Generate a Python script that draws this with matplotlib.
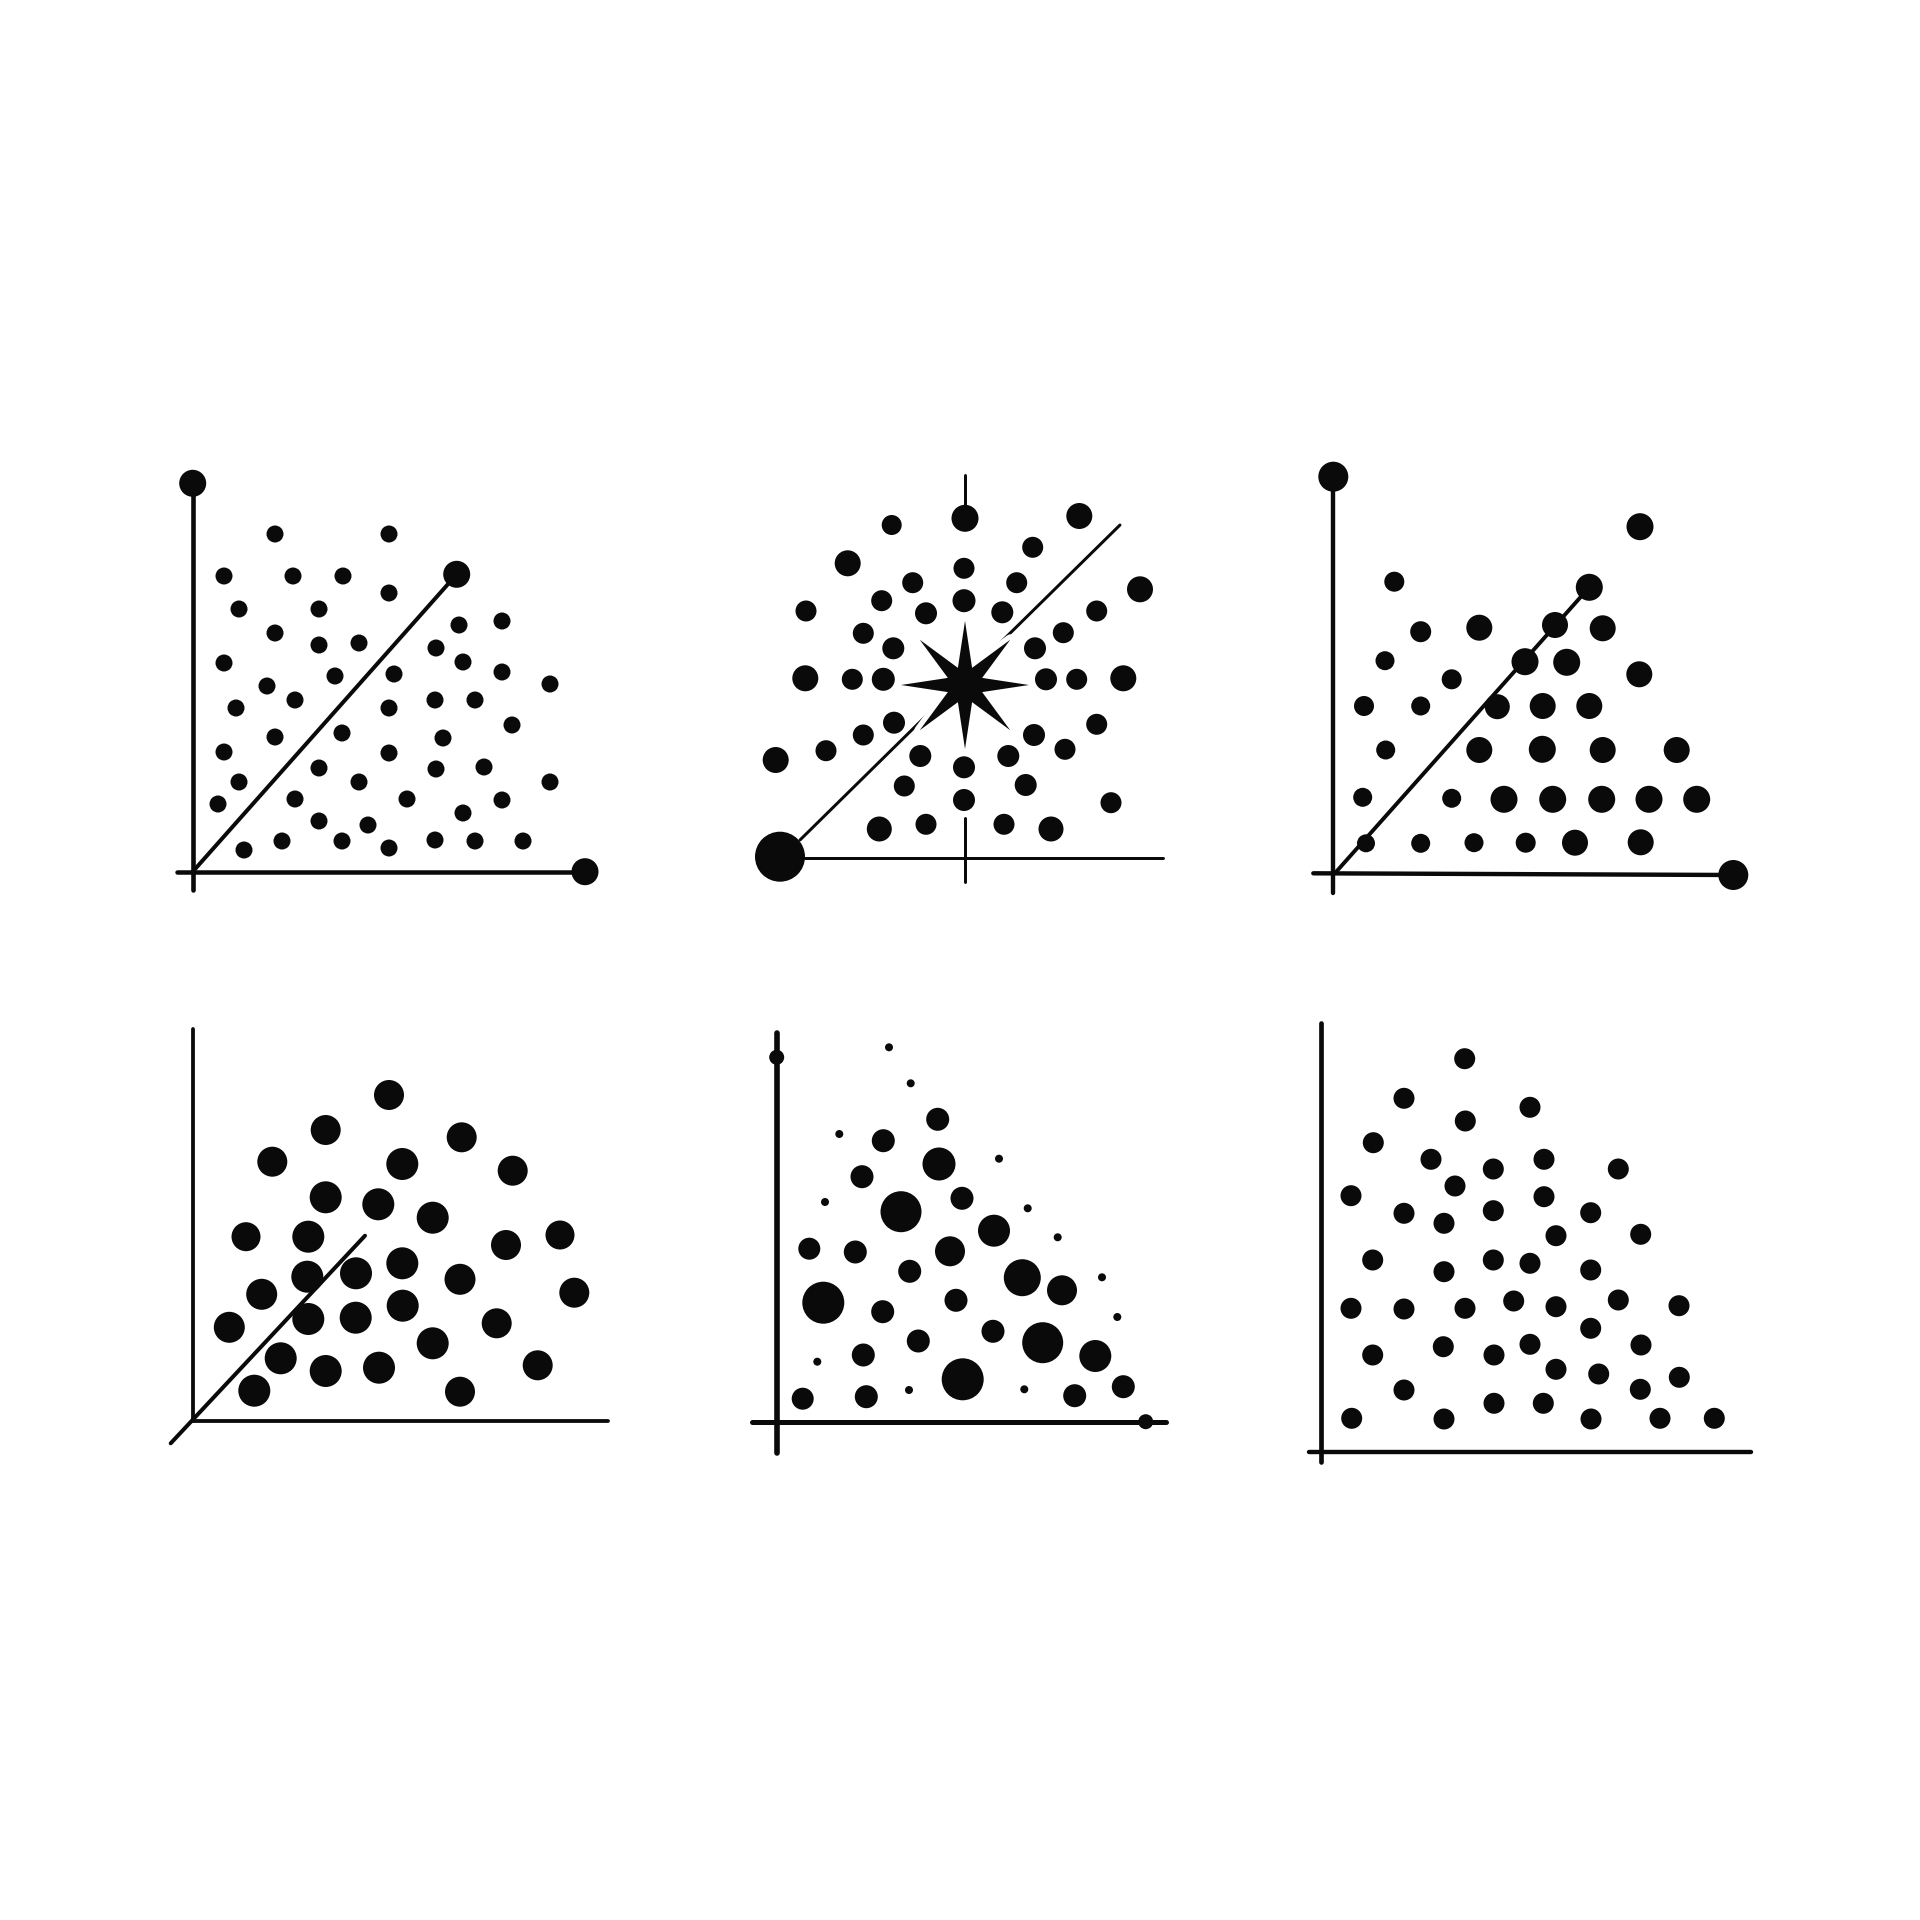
import numpy as np
import matplotlib.pyplot as plt
from matplotlib.path import Path

DPI = 100
PX = 72 / DPI   # points per pixel, used for marker sizes and line widths
INK = '#0a0a0a'

# ---- panel 1 : small scatter with trend line ----
p1_x = [275, 389, 224, 293, 343, 389, 239, 319, 459, 502, 275, 319, 359, 436,
        224, 463, 502, 335, 394, 267, 550, 236, 295, 389, 435, 475, 512, 275,
        342, 443, 224, 389, 239, 319, 359, 436, 484, 550, 218, 295, 407, 502,
        463, 319, 368, 244, 282, 342, 389, 435, 475, 523]
p1_y = [534, 534, 576, 576, 576, 593, 609, 609, 625, 621, 633, 645, 643, 648,
        663, 662, 672, 676, 674, 686, 684, 708, 700, 708, 700, 700, 725, 737,
        733, 738, 752, 753, 782, 768, 782, 769, 767, 782, 804, 799, 799, 800,
        813, 821, 825, 850, 841, 841, 848, 840, 841, 841]
p1_d = [17] * len(p1_x)
p1_end_x = [192.7, 456.7, 585]
p1_end_y = [483.3, 574.3, 871.7]

# ---- panel 2 : radial scatter around a star ----
p2_x = [891.7, 965, 1079.3, 1032.7, 847.7, 964, 912.7, 1016.7, 1140, 806,
        881.7, 926, 964, 1002.3, 1096.7, 863.3, 1063.3, 893.3, 1035, 805.3,
        852.3, 883.3, 1046, 1076.7, 1123.3, 894, 863.3, 1096.7, 1034, 826,
        775.7, 920.3, 1008.3, 1065, 964, 904.3, 1025.7, 964, 1111, 879.3,
        926, 1004, 1051]
p2_y = [525, 518.3, 516, 547.3, 563.3, 568.3, 582.7, 582.7, 589.3, 611,
        600.7, 613.3, 600.7, 612.3, 611, 633.3, 632.7, 648.3, 648.3, 678.3,
        679.3, 679.3, 679.3, 679.3, 678.3, 722.7, 735, 724.3, 735, 750.7,
        760, 756, 756, 749.3, 767.3, 786, 785, 800, 802.7, 829,
        824.3, 824.3, 829]
p2_d = [20, 27, 26, 21, 26, 21, 21, 21, 26, 21,
        21, 22, 23, 22, 21, 21, 21, 22, 22, 26,
        21, 23, 22, 21, 26, 22, 21, 21, 22, 21,
        26, 22, 22, 21, 22, 21, 22, 22, 21, 25,
        21, 21, 25]
p2_star = (965, 685)
p2_origin = (780, 856.7)

# ---- panel 3 : growing dots with trend line ----
p3_x = [1640, 1394.3, 1420.7, 1479.3, 1555, 1602.7, 1385, 1525, 1566.7, 1639.3,
        1451.7, 1364, 1420.7, 1497.3, 1542.7, 1589.3, 1385.7, 1479.3, 1542.3,
        1602.7, 1676.7, 1362.7, 1451.7, 1504, 1552.7, 1601.7, 1649, 1696.7,
        1366, 1420.7, 1474, 1525.7, 1575, 1640.7]
p3_y = [526.7, 581.7, 631.7, 627.7, 625, 628.3, 660.7, 661.7, 662.3, 674.3,
        679.3, 706, 706, 706.7, 706, 706, 750, 750, 749.3,
        750, 750, 797.3, 798.3, 799.3, 799.3, 799.3, 799.3, 799.3,
        843.3, 843.3, 842.7, 842.7, 842.7, 842.3]
p3_d = [27, 20, 21, 26, 26, 26, 19, 27, 27, 26,
        20, 20, 19, 25, 26, 26, 19, 26, 27,
        26, 26, 19, 19, 27, 27, 27, 27, 27,
        18, 19, 19, 20, 26, 26]
p3_end_x = [1333.3, 1589.3, 1733.3]
p3_end_y = [476.7, 587.3, 875]
p3_end_d = [30, 27, 30]

# ---- panel 4 : large dots ----
p4_x = [389, 325.7, 461.7, 272.3, 402.3, 512.7, 325.7, 378.3, 432.7, 246,
        308.3, 506, 560, 307.3, 356, 402.3, 460, 261.7, 574.3, 402.7,
        229.3, 308.3, 355.7, 496.7, 432.7, 280.7, 325.7, 379, 537.7, 254.3, 460]
p4_y = [1095, 1130, 1137.3, 1161.7, 1164, 1170.7, 1197.3, 1204.3, 1217.7, 1236.7,
        1236.7, 1245, 1235, 1276.7, 1273.3, 1263.3, 1279.3, 1294.3, 1292.7, 1305.7,
        1327.3, 1319, 1317.7, 1323.3, 1343.3, 1358.3, 1371, 1367.7, 1365.3, 1390.7,
        1391.7]
p4_d = [30, 30, 30, 30, 32, 30, 32, 32, 32, 29,
        32, 30, 29, 32, 32, 32, 31, 31, 30, 32,
        31, 32, 32, 30, 32, 32, 32, 32, 30, 32, 30]

# ---- panel 5 : bubble sizes ----
p5_x = [889, 910.7, 937.7, 839.3, 883.3, 999, 939, 862, 962, 825,
        901, 1027.7, 994, 1057.7, 809.3, 855.3, 950, 909.7, 1022.3, 1062,
        1102, 823.3, 956, 882.7, 1117.3, 993, 918.3, 1042.7, 1095.3, 817.3,
        863.3, 962.7, 1123.3, 802.7, 866.3, 909, 1024.3, 1074.7]
p5_y = [1047.3, 1083.3, 1119.3, 1134, 1140.7, 1158.7, 1164, 1176.7, 1198.3, 1202,
        1211.7, 1208.3, 1230.7, 1237.3, 1248.7, 1252, 1251.3, 1271.3, 1277.7, 1290.3,
        1277.3, 1302.7, 1300.3, 1311.7, 1317, 1331.3, 1341, 1342.7, 1356, 1361.7,
        1355, 1379.3, 1386.7, 1398.7, 1396.7, 1390, 1389.3, 1395.7]
p5_d = [8, 8, 23, 8, 23, 8, 33, 23, 23, 8,
        41, 8, 32, 8, 22, 23, 30, 23, 37, 30,
        8, 42, 23, 23, 8, 23, 23, 41, 32, 8,
        23, 42, 23, 22, 23, 8, 8, 23]
p5_end_x = [776.7, 1145.7]
p5_end_y = [1057.3, 1421.7]

# ---- panel 6 : uniform dots ----
p6_x = [1464.7, 1404, 1530, 1465.3, 1373.3, 1431, 1493.3, 1544, 1618.3, 1455,
        1351, 1544, 1404, 1493.3, 1590.7, 1444, 1556, 1640.7, 1372.7, 1493.3,
        1530, 1444, 1590.7, 1351, 1404, 1465, 1513.7, 1556, 1618.3, 1679,
        1590.7, 1372.7, 1443.3, 1494, 1530, 1641, 1556, 1598.7, 1679.3, 1404,
        1640.3, 1494, 1543.3, 1351.7, 1444, 1591, 1660, 1714.3]
p6_y = [1058.7, 1098.3, 1107.3, 1121, 1142.7, 1159.3, 1169, 1159.3, 1169, 1186,
        1195.7, 1196.7, 1213.3, 1210.7, 1212.7, 1223.3, 1235.7, 1234.3, 1260, 1260,
        1263.3, 1271.7, 1270, 1308.3, 1309, 1308.3, 1301, 1306.7, 1300, 1305.7,
        1328.3, 1355, 1346.7, 1355, 1344.3, 1345, 1369.3, 1374, 1377.3, 1390,
        1389.3, 1403.3, 1403.3, 1418.3, 1419, 1419, 1418.3, 1418.3]
p6_d = [21] * len(p6_x)

# axis / guide segments: (x0, x1, y0, y1, width in px)
p1_lines = [(192.7, 192.7, 483, 890, 4.6), (176.7, 585, 871.7, 871.7, 4.5),
            (192.7, 456.7, 871.7, 574.3, 4.0)]
p2_lines = [(803, 1163, 858.3, 858.3, 3.0), (965, 965, 475, 517, 3.0),
            (965, 965, 818, 882, 3.0), (800, 1120, 840, 525, 3.0)]
p3_lines = [(1333.3, 1333.3, 476.7, 893.3, 4.4), (1313.3, 1733.3, 873.3, 875, 4.4),
            (1336, 1589.3, 872, 587.3, 3.9)]
p4_lines = [(192.7, 192.7, 1029, 1421, 3.8), (192.7, 608.3, 1420.7, 1420.7, 3.8),
            (170.7, 365, 1443.3, 1235.7, 4.0)]
p5_lines = [(776.7, 776.7, 1032.7, 1453.3, 5.6), (751.7, 1166, 1421.7, 1421.7, 5.0)]
p6_lines = [(1320.7, 1320.7, 1022.7, 1461.7, 4.7), (1309.3, 1751, 1452.3, 1452.3, 4.4)]


def size(d):
    return (np.asarray(d, dtype=float) * PX) ** 2


def dots(ax, x, y, d, z=3, color=INK):
    ax.scatter(x, y, s=size(d), c=color, edgecolors='none', zorder=z)


def segs(ax, lines):
    for x0, x1, y0, y1, w in lines:
        ax.plot([x0, x1], [y0, y1], color=INK, lw=w * PX,
                solid_capstyle='round', zorder=2)


def star_path(points=8, inner=0.29):
    ang = np.pi / 2 + np.arange(2 * points) * np.pi / points
    rad = np.where(np.arange(2 * points) % 2 == 0, 1.0, inner)
    verts = np.column_stack([rad * np.cos(ang), rad * np.sin(ang)])
    verts = np.vstack([verts, verts[:1]])
    return Path(verts, closed=True)


star = star_path()

fig = plt.figure(figsize=(1920 / DPI, 1920 / DPI), dpi=DPI)
ax = fig.add_axes([0, 0, 1, 1])
ax.set_xlim(0, 1920)
ax.set_ylim(1920, 0)
ax.axis('off')

# panel 1
segs(ax, p1_lines)
dots(ax, p1_x, p1_y, p1_d)
dots(ax, p1_end_x, p1_end_y, [27, 27, 27])

# panel 2
segs(ax, p2_lines)
dots(ax, p2_x, p2_y, p2_d)
dots(ax, [p2_origin[0]], [p2_origin[1]], [50])
ax.scatter([p2_star[0]], [p2_star[1]], s=size([128]), marker=star, c='white',
           edgecolors='white', linewidths=12 * PX, zorder=4)
ax.scatter([p2_star[0]], [p2_star[1]], s=size([128]), marker=star, c=INK,
           edgecolors='none', zorder=5)

# panel 3
segs(ax, p3_lines)
dots(ax, p3_x, p3_y, p3_d)
dots(ax, p3_end_x, p3_end_y, p3_end_d)

# panel 4
segs(ax, p4_lines)
dots(ax, p4_x, p4_y, p4_d)

# panel 5
segs(ax, p5_lines)
dots(ax, p5_x, p5_y, p5_d)
dots(ax, p5_end_x, p5_end_y, [15, 15])

# panel 6
segs(ax, p6_lines)
dots(ax, p6_x, p6_y, p6_d)

fig.savefig('out.png', dpi=DPI, facecolor='white')
